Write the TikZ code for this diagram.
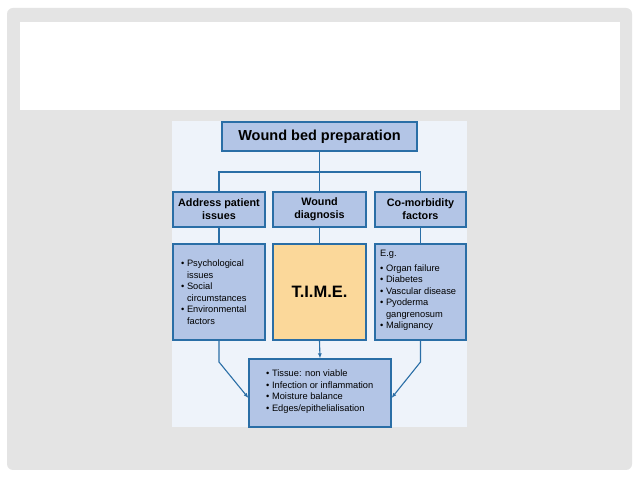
\documentclass[tikz,border=0pt]{standalone}
\usepackage{fontspec}
\setmainfont{Liberation Sans}
\begin{document}
\begin{tikzpicture}[x=1pt,y=-1pt,
  bx/.style={draw=bord,line width=1.2pt,fill=boxb,inner sep=0pt},
  ln/.style={draw=bord,line width=1.1pt},
  ar/.style={ln,-{Latex[length=5pt,width=4pt]}}]
\usetikzlibrary{arrows.meta}
\definecolor{bord}{HTML}{2A6EA6}
\definecolor{boxb}{HTML}{B3C5E6}
\definecolor{pale}{HTML}{EEF3FA}
\definecolor{slide}{HTML}{E4E4E4}
\definecolor{timec}{HTML}{FBD89A}
\useasboundingbox (0,0) rectangle (638,478);
\fill[white] (0,0) rectangle (638,478);
\fill[slide,rounded corners=6pt] (7,8) rectangle (632,470);
\fill[white] (20,22) rectangle (620,110);
\fill[pale] (172,121) rectangle (467,427);
\node[bx,minimum width=195,minimum height=29,font=\bfseries\fontsize{14.5}{17}\selectfont] (top) at (319.5,136.5) {Wound bed preparation};
\tikzset{hd/.style={bx,minimum height=35,align=center,font=\bfseries\fontsize{10.8}{13}\selectfont}}
\node[hd,minimum width=92] (a) at (219,209.5) {Address patient\\issues};
\node[hd,minimum width=93] (w) at (319.5,209.5) {Wound\\diagnosis};
\node[hd,minimum width=91] (c) at (420.5,209.5) {Co-morbidity\\factors};
\node[bx,minimum width=92,minimum height=96] (pa) at (219,292) {};
\node[bx,fill=timec,minimum width=93,minimum height=96,font=\bfseries\fontsize{16.5}{18}\selectfont] (t) at (319.5,292) {T.I.M.E.};
\node[bx,minimum width=91,minimum height=96] (cm) at (420.5,292) {};
\node[bx,minimum width=142,minimum height=68] (b) at (320,393) {};
\tikzset{lst/.style={anchor=north west,align=left,font=\fontsize{9.3}{11.5}\selectfont,inner sep=0pt}}
\node[lst] (pat) at (181,260) {%
\textbullet\ Psychological\\\phantom{\textbullet\ }issues\\\textbullet\ Social\\\phantom{\textbullet\ }circumstances\\\textbullet\ Environmental\\\phantom{\textbullet\ }factors};
\node[lst] (cmt) at (380,250) {%
E.g.\\[3pt]\textbullet\ Organ failure\\\textbullet\ Diabetes\\\textbullet\ Vascular disease\\\textbullet\ Pyoderma\\\phantom{\textbullet\ }gangrenosum\\\textbullet\ Malignancy};
\node[lst] (bt) at (266,370) {%
\textbullet\ Tissue: non viable\\\textbullet\ Infection or inflammation\\\textbullet\ Moisture balance\\\textbullet\ Edges/epithelialisation};
\coordinate (h) at (319.5,172);
\draw[ln] (top.south) -- (w.north);
\draw[ln] (a.north) |- (h) -| (c.north);
\draw[ln] (a.south) -- (pa.north);
\draw[ln] (w.south) -- (t.north);
\draw[ln] (c.south) -- (cm.north);
\draw[ar] (t.south) -- (b.north);
\coordinate (la) at (219,362);
\coordinate (lc) at (420.5,362);
\draw[ar] (pa.south) -- (la) -- ([yshift=-5]b.west);
\draw[ar] (cm.south) -- (lc) -- ([yshift=-5]b.east);
\end{tikzpicture}
\end{document}
